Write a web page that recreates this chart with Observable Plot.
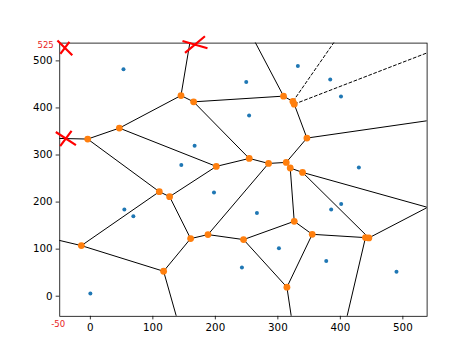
<!DOCTYPE html>
<html>
<head>
<meta charset="utf-8">
<script src="https://cdn.jsdelivr.net/npm/d3@7"></script>
<script src="https://cdn.jsdelivr.net/npm/@observablehq/plot@0.6"></script>
<style>
  html, body { margin: 0; padding: 0; background: white; }
  #chart { width: 474px; height: 355px; }
</style>
</head>
<body>
<div id="chart"></div>
<script>
// Input points (blue)
const pointX = [53, 249.4, 254, 166.8, 332, 383.8, 401, 54.4, 68.8, 145.5, 197.8, 266.5, 301.7, 242.5, 429.6, 401.3, 385.3, 377.4, 489.8, 0];
const pointY = [482, 455.4, 384, 319.7, 489.4, 460.3, 424.3, 184, 169.7, 278.7, 220.6, 177, 101.8, 60.9, 273.7, 196, 184, 75, 51.8, 5.7];

// Voronoi vertices (first 26 are drawn in orange; the rest lie outside the view)
const vertexX = [-4.3, 46.4, 145.0, 165.2, 309.1, 324.1, 326.2, 346.5, 254.2, 201.5, 285.1, 313.4, 319.8, 339.5, 110.3, 126.8, 160.4, 188.2, 245.1, 326.2, 355.0, 117.2, 314.5, 440.2, 445.6, -14.4,
                 -100, 167, 239.8, 600, 539.5, 149.8, 327.9, 400.6, -100, 421.5, 600];
const vertexY = [333.9, 357.2, 426.4, 413.0, 425.1, 413.7, 408.1, 336.0, 292.7, 275.8, 282.1, 284.3, 272.4, 263.0, 222.1, 211.5, 122.4, 130.9, 120.3, 159.1, 131.5, 53.0, 19.1, 124.5, 123.9, 107.5,
                 336.7, 600, 600, 384.5, 188.8, -100, -100, -100, 134.5, 600, 548.4];
const visibleVertexCount = 26;

// Ridges: pairs of vertex indices
const solidRidges = [
  [0,1],[0,14],[0,26],[1,2],[1,9],[2,3],[2,27],[3,4],[3,8],[4,5],[4,28],
  [5,6],[6,7],[7,11],[7,29],[8,9],[8,10],[9,15],[10,11],[10,17],[11,12],
  [12,13],[12,19],[13,30],[13,24],[24,30],[23,24],[20,23],[23,33],
  [14,15],[14,25],[15,16],[16,17],[16,21],[17,18],[18,19],[18,22],
  [19,20],[20,22],[21,25],[21,31],[22,32],[25,34]
];
const dashedRidges = [[5,35],[6,36]];

// Red cross markers
const crossX = [-40.8, -39.2, 167.4];
const crossY = [527.6, 335, 534.6];

// Ticks
const xTicks = [0, 100, 200, 300, 400, 500];
const yTicks = [0, 100, 200, 300, 400, 500];
const redLabels = ["525", "-50"];
const redLabelX = [-49, -50];
const redLabelY = [525, -42.7];

const toLinks = (pairs) => pairs.map(([a, b]) => ({x1: vertexX[a], y1: vertexY[a], x2: vertexX[b], y2: vertexY[b]}));
const points = pointX.map((x, i) => ({x, y: pointY[i]}));
const vertices = vertexX.slice(0, visibleVertexCount).map((x, i) => ({x, y: vertexY[i]}));
const crosses = crossX.map((x, i) => ({x, y: crossY[i]}));

// skewed cross glyph: two strokes through the centre (angles in degrees, lengths in px)
function skewCross(a1, l1, a2, l2) {
  return {
    draw(ctx) {
      for (const [a, l] of [[a1, l1], [a2, l2]]) {
        const t = a * Math.PI / 180, h = l / 2;
        ctx.moveTo(-Math.cos(t) * h, -Math.sin(t) * h);
        ctx.lineTo(Math.cos(t) * h, Math.sin(t) * h);
      }
    }
  };
}
const crossStyle = {x: "x", y: "y", r: 8, stroke: "red", fill: "none", strokeWidth: 2.2};

const chart = Plot.plot({
  width: 474,
  height: 355,
  marginLeft: 59.25,
  marginRight: 47.4,
  marginTop: 42.6,
  marginBottom: 39.2,
  style: {fontFamily: "DejaVu Sans", fontSize: "10.3px", background: "white", color: "black"},
  x: {domain: [-48.98, 538.8]},
  y: {domain: [-42.7, 537.8]},
  marks: [
    Plot.link(toLinks(solidRidges), {x1: "x1", y1: "y1", x2: "x2", y2: "y2", stroke: "black", strokeWidth: 1, clip: true}),
    Plot.link(toLinks(dashedRidges), {x1: "x1", y1: "y1", x2: "x2", y2: "y2", stroke: "black", strokeWidth: 1, strokeDasharray: "3.7,1.6", clip: true}),
    Plot.dot(points, {x: "x", y: "y", r: 2, fill: "#1f77b4", clip: true}),
    Plot.dot(vertices, {x: "x", y: "y", r: 3.4, fill: "#ff7f0e", clip: true}),
    Plot.frame({stroke: "black", strokeWidth: 0.8}),
    Plot.axisX({ticks: xTicks, tickSize: 3.6, tickPadding: 3.5, label: null, strokeWidth: 0.8}),
    Plot.axisY({ticks: yTicks, tickSize: 3.6, tickPadding: 3.5, label: null, strokeWidth: 0.8}),
    Plot.text([0], {x: () => redLabelX[0], y: () => redLabelY[0], text: () => redLabels[0], textAnchor: "end", dx: -6, dy: -4, fill: "#e8221b", fontSize: 8.5}),
    Plot.text([0], {x: () => redLabelX[1], y: () => redLabelY[1], text: () => redLabels[1], textAnchor: "middle", dx: -1, dy: 7.5, fill: "#e8221b", fontSize: 8.5}),
    Plot.dot(crosses.slice(0, 1), {...crossStyle, symbol: skewCross(45, 21, -53, 15)}),
    Plot.dot(crosses.slice(1, 2), {...crossStyle, symbol: skewCross(33, 24, -53, 19)}),
    Plot.dot(crosses.slice(2, 3), {...crossStyle, symbol: skewCross(-40, 26, 16, 26)})
  ]
});
document.getElementById("chart").appendChild(chart);
</script>
</body>
</html>
